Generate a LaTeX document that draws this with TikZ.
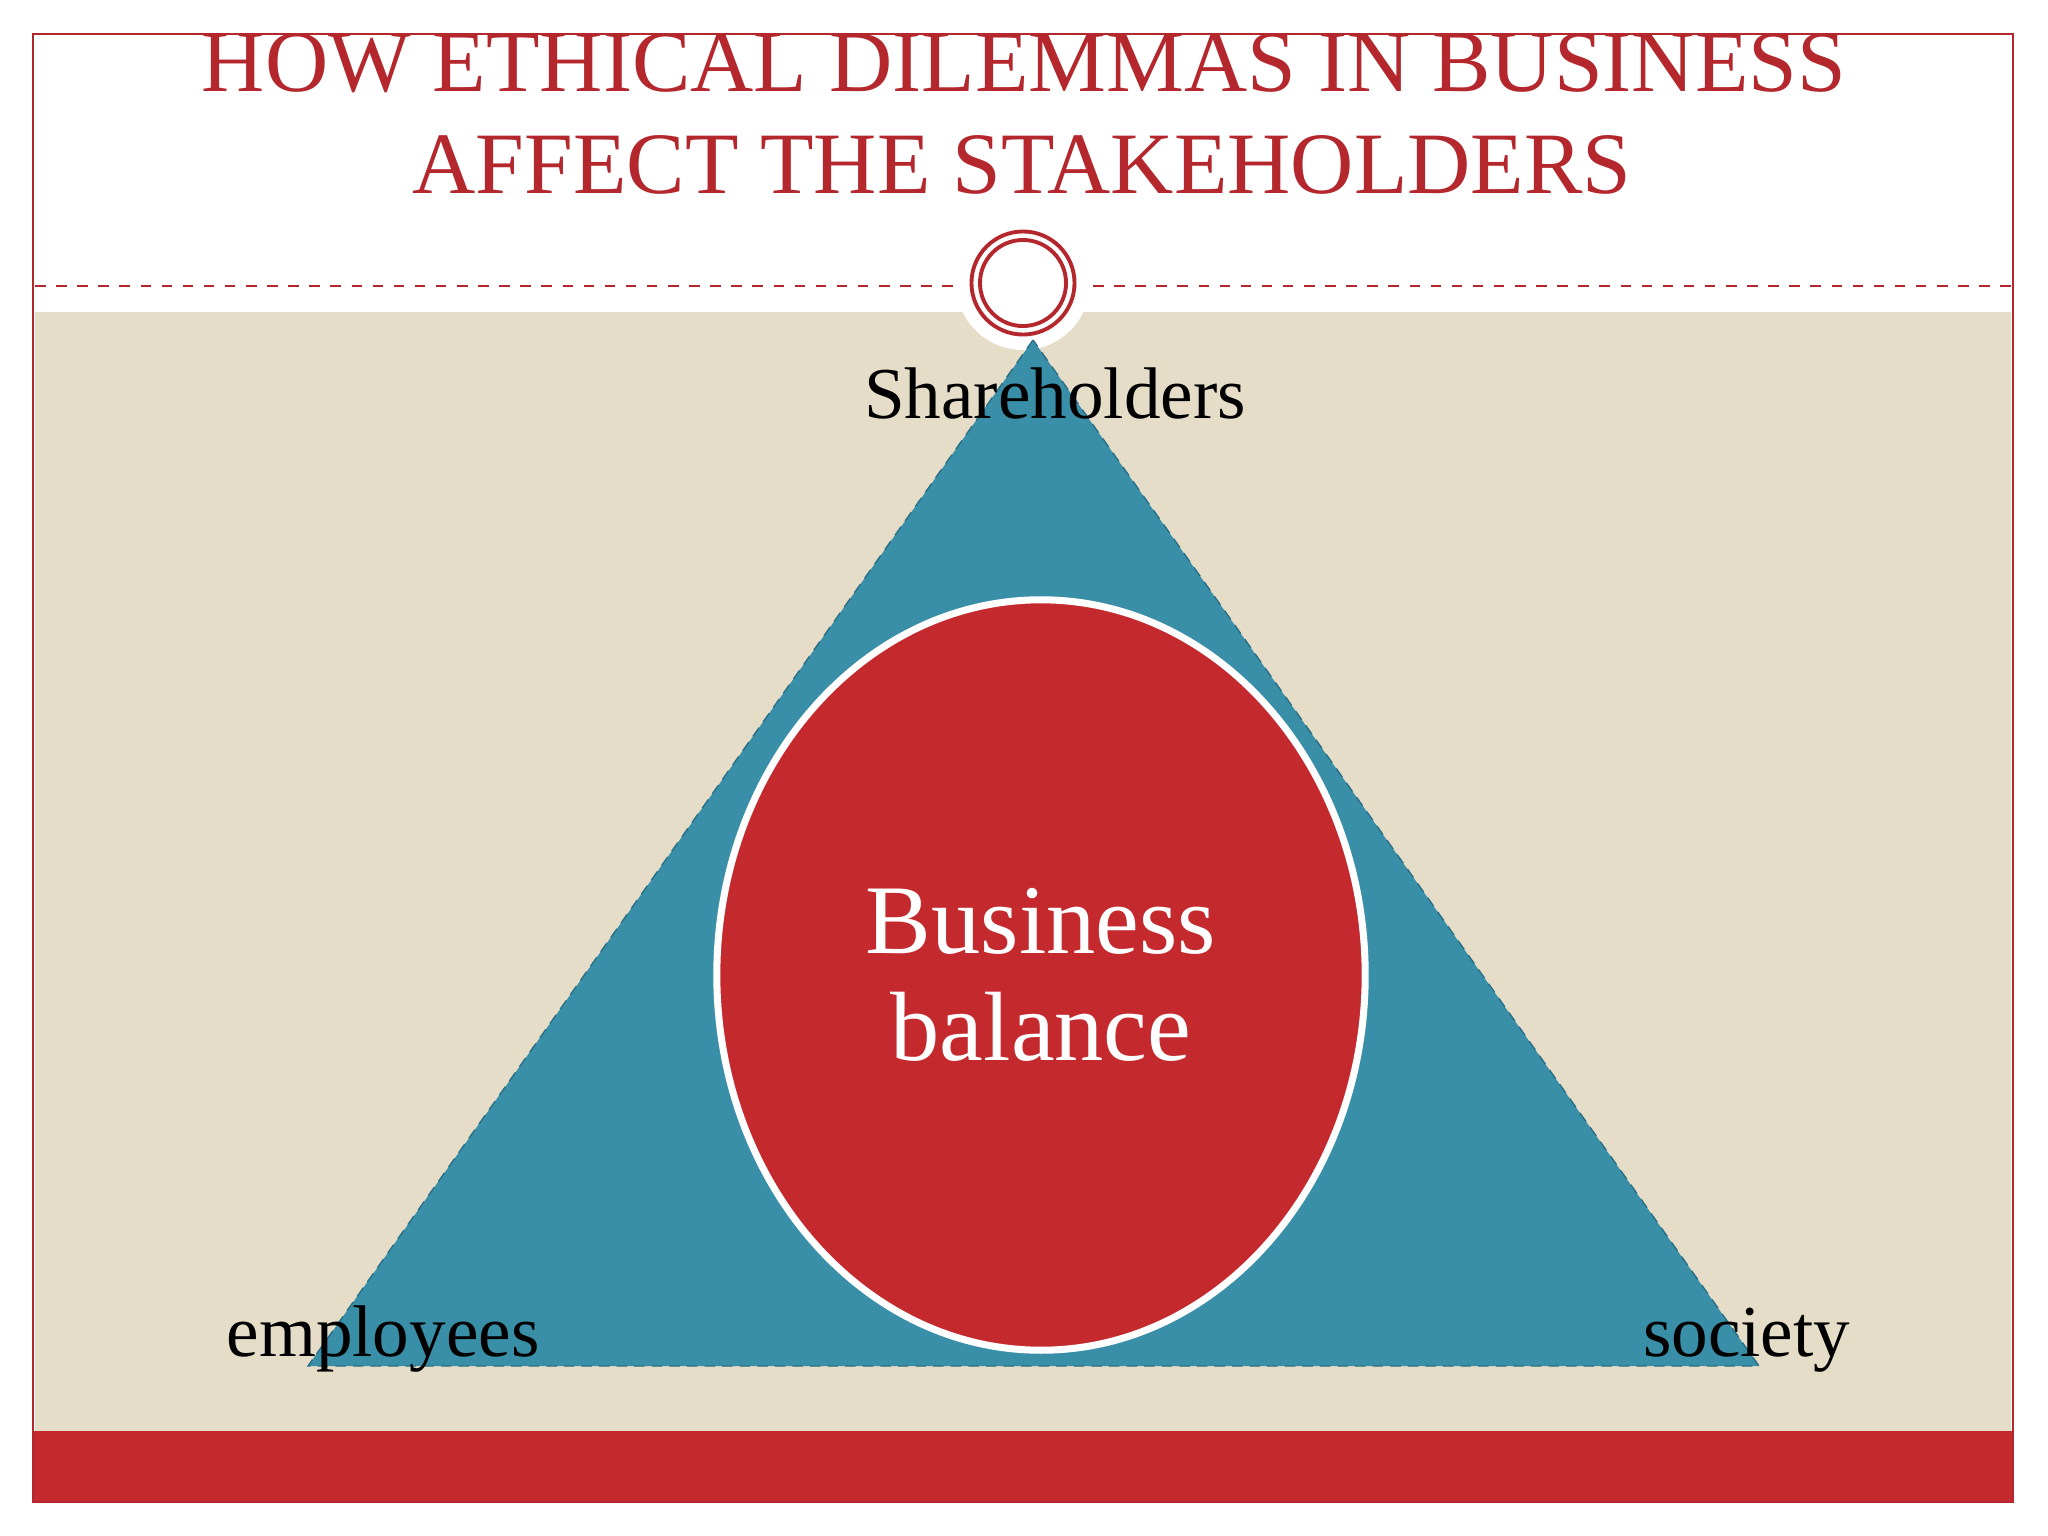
\documentclass[tikz,border=0pt]{standalone}
\usepackage{fontspec}
\setmainfont{Liberation Serif}
\usepackage{xcolor}
\usetikzlibrary{shapes}
\definecolor{slidered}{HTML}{C4292D}
\definecolor{titlered}{HTML}{B3272D}
\definecolor{beige}{HTML}{E6DDC8}
\definecolor{teal}{HTML}{3A8FA8}
\definecolor{darkteal}{HTML}{2A6F85}

\begin{document}
\begin{tikzpicture}[x=0.01cm, y=-0.01cm, title/.style={text=titlered, font=\fontsize{24.9}{30}\selectfont}, label/.style={font=\fontsize{20.8}{26}\selectfont, text=black, inner sep=0pt}, ring/.style={draw=titlered, line width=1.1pt}]
\useasboundingbox (0,0) rectangle (2048,1536);
\fill[white] (0,0) rectangle (2048,1536);
\fill[beige] (35,312) rectangle (2011,1431);
\fill[slidered] (33,1431) rectangle (2013,1502);
\draw[titlered, line width=0.5pt] (33,34) rectangle (2013,1502);
\draw[titlered, dashed, line width=0.6pt] (35,286) -- (955,286);
\draw[titlered, dashed, line width=0.6pt] (1093,286) -- (2011,286);
\fill[white] (1023,283) circle (67);
\node[circle, ring, minimum size=1.03cm] (outer) at (1023,283) {};
\node[circle, ring, minimum size=0.86cm] (inner) at (1023,283) {};
\node[title, anchor=base] (t1) at (1024,91) {HOW ETHICAL DILEMMAS IN BUSINESS};
\node[title, anchor=base] (t2) at (1022,193) {AFFECT THE STAKEHOLDERS};
% triangle
\coordinate (apex) at (1033,340);
\coordinate (left) at (308,1366);
\coordinate (right) at (1759,1366);
\fill[teal] (apex) -- (left) -- (right) -- cycle;
\draw[darkteal, densely dashed, line width=0.4pt] (apex) -- (left) -- (right) -- cycle;
\node[ellipse, fill=slidered, draw=white, line width=2pt, minimum width=6.48cm, minimum height=7.5cm, text=white, align=center, font=\fontsize{28}{30.5}\selectfont, inner sep=0pt] (balance) at (1041,975) {Business\\balance};
\node[label, anchor=base] (share) at (1055,418) {Shareholders};
\node[label, anchor=base west] (emp) at (226,1356) {employees};
\node[label, anchor=base east] (soc) at (1851,1356) {society};
\end{tikzpicture}
\end{document}
